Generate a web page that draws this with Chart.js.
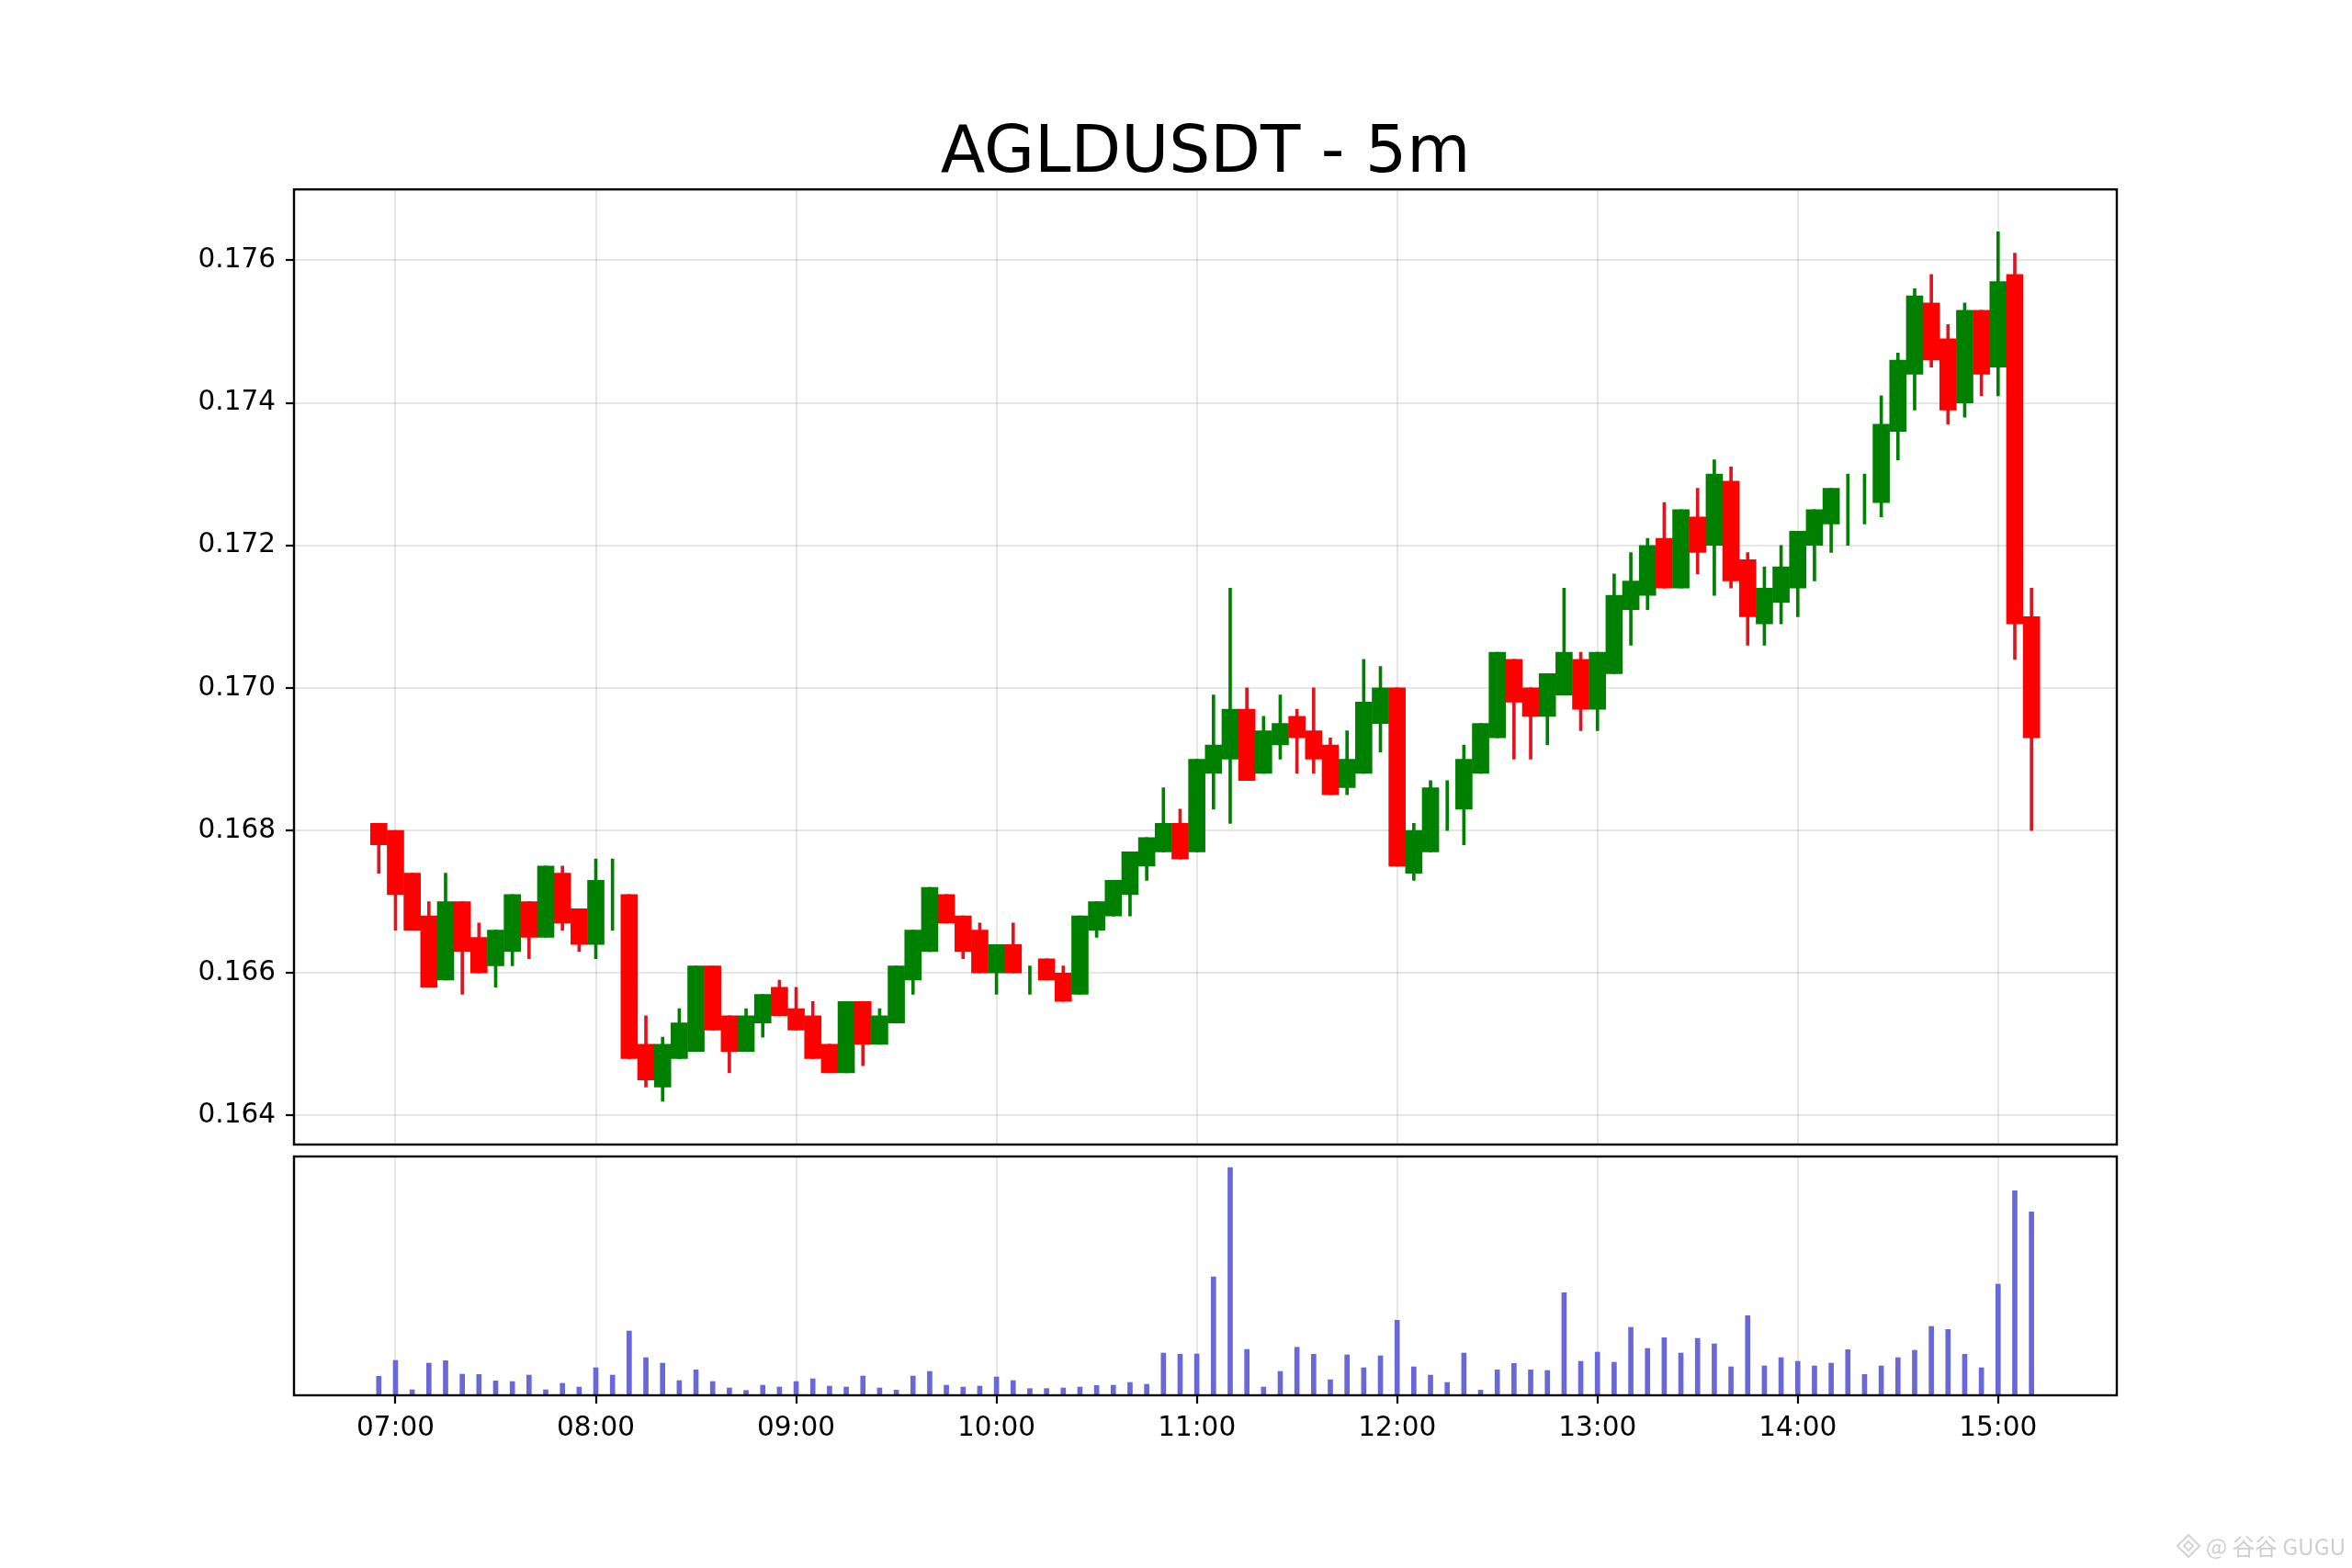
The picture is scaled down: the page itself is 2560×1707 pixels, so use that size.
<!DOCTYPE html>
<html>
<head>
<meta charset="utf-8">
<title>AGLDUSDT - 5m</title>
<script src="https://cdn.jsdelivr.net/npm/chart.js@4"></script>
<style>
  html, body { margin: 0; padding: 0; background: #fff; }
  body { position: relative; width: 2560px; height: 1707px; overflow: hidden; }
  canvas { position: absolute; left: 0; }
  #priceChart { top: 0; }
  #volumeChart { top: 1240px; }
  #watermark {
    position: absolute; left: 2368px; top: 1665px; white-space: nowrap;
    font: 24.5px "Noto Sans CJK SC", "Noto Sans", sans-serif; color: #cfcfcf;
  }
  #watermark svg { vertical-align: -4px; margin-right: 5px; }
</style>
</head>
<body>
<canvas id="priceChart" width="2560" height="1252"></canvas>
<canvas id="volumeChart" width="2560" height="467"></canvas>
<div id="watermark"><svg width="28" height="28" viewBox="0 0 28 28" fill="none" stroke="#d4d4d4" stroke-width="2"><path d="M14 2 L26 14 L14 26 L2 14 Z"/><path d="M14 9 L19 14 L14 19 L9 14 Z"/></svg>@ 谷谷 GUGU</div>

<script>
// 5 minute candles, first one is 06:55
const opens = [
  0.1681, 0.1680, 0.1674, 0.1668, 0.1659, 0.1670, 0.1665, 0.1661, 0.1663, 0.1670,
  0.1665, 0.1674, 0.1669, 0.1664, 0.1671, 0.1671, 0.1650, 0.1644, 0.1648, 0.1649,
  0.1661, 0.1654, 0.1649, 0.1653, 0.1658, 0.1655, 0.1654, 0.1650, 0.1646, 0.1656,
  0.1650, 0.1653, 0.1659, 0.1663, 0.1671, 0.1668, 0.1666, 0.1660, 0.1664, 0.1659,
  0.1662, 0.1660, 0.1657, 0.1666, 0.1668, 0.1671, 0.1675, 0.1677, 0.1681, 0.1677,
  0.1688, 0.1690, 0.1697, 0.1688, 0.1692, 0.1696, 0.1694, 0.1692, 0.1686, 0.1688,
  0.1695, 0.1700, 0.1674, 0.1677, 0.1684, 0.1683, 0.1688, 0.1693, 0.1704, 0.1700,
  0.1696, 0.1699, 0.1704, 0.1697, 0.1702, 0.1711, 0.1713, 0.1721, 0.1714, 0.1724,
  0.1720, 0.1729, 0.1718, 0.1709, 0.1712, 0.1714, 0.1720, 0.1723, 0.1725, 0.1726,
  0.1726, 0.1736, 0.1744, 0.1754, 0.1749, 0.1740, 0.1753, 0.1745, 0.1758, 0.1710
];
const highs = [
  0.1681, 0.1680, 0.1674, 0.1670, 0.1674, 0.1670, 0.1667, 0.1666, 0.1671, 0.1670,
  0.1675, 0.1675, 0.1669, 0.1676, 0.1676, 0.1671, 0.1654, 0.1651, 0.1655, 0.1661,
  0.1661, 0.1654, 0.1655, 0.1657, 0.1659, 0.1658, 0.1656, 0.1650, 0.1656, 0.1656,
  0.1655, 0.1661, 0.1666, 0.1672, 0.1671, 0.1668, 0.1667, 0.1664, 0.1667, 0.1661,
  0.1662, 0.1661, 0.1668, 0.1670, 0.1673, 0.1677, 0.1679, 0.1686, 0.1683, 0.1690,
  0.1699, 0.1714, 0.1700, 0.1696, 0.1699, 0.1697, 0.1700, 0.1693, 0.1694, 0.1704,
  0.1703, 0.1700, 0.1681, 0.1687, 0.1687, 0.1692, 0.1695, 0.1705, 0.1704, 0.1700,
  0.1702, 0.1714, 0.1705, 0.1705, 0.1716, 0.1719, 0.1721, 0.1726, 0.1725, 0.1728,
  0.1732, 0.1731, 0.1719, 0.1717, 0.1720, 0.1722, 0.1725, 0.1728, 0.1730, 0.1730,
  0.1741, 0.1747, 0.1756, 0.1758, 0.1751, 0.1754, 0.1753, 0.1764, 0.1761, 0.1714
];
const lows = [
  0.1674, 0.1666, 0.1666, 0.1658, 0.1659, 0.1657, 0.1660, 0.1658, 0.1661, 0.1662,
  0.1665, 0.1666, 0.1663, 0.1662, 0.1666, 0.1648, 0.1644, 0.1642, 0.1648, 0.1649,
  0.1652, 0.1646, 0.1649, 0.1651, 0.1654, 0.1652, 0.1648, 0.1646, 0.1646, 0.1647,
  0.1650, 0.1653, 0.1657, 0.1663, 0.1667, 0.1662, 0.1660, 0.1657, 0.1660, 0.1657,
  0.1659, 0.1656, 0.1657, 0.1665, 0.1668, 0.1668, 0.1673, 0.1677, 0.1676, 0.1677,
  0.1683, 0.1681, 0.1687, 0.1688, 0.1690, 0.1688, 0.1688, 0.1685, 0.1685, 0.1688,
  0.1691, 0.1675, 0.1673, 0.1677, 0.1680, 0.1678, 0.1688, 0.1693, 0.1690, 0.1690,
  0.1692, 0.1699, 0.1694, 0.1694, 0.1702, 0.1706, 0.1711, 0.1714, 0.1714, 0.1716,
  0.1713, 0.1714, 0.1706, 0.1706, 0.1709, 0.1710, 0.1715, 0.1719, 0.1720, 0.1723,
  0.1724, 0.1732, 0.1739, 0.1745, 0.1737, 0.1738, 0.1741, 0.1741, 0.1704, 0.1680
];
const closes = [
  0.1678, 0.1671, 0.1666, 0.1658, 0.1670, 0.1663, 0.1660, 0.1666, 0.1671, 0.1665,
  0.1675, 0.1667, 0.1664, 0.1673, 0.1671, 0.1648, 0.1645, 0.1650, 0.1653, 0.1661,
  0.1652, 0.1649, 0.1654, 0.1657, 0.1654, 0.1652, 0.1648, 0.1646, 0.1656, 0.1650,
  0.1654, 0.1661, 0.1666, 0.1672, 0.1667, 0.1663, 0.1660, 0.1664, 0.1660, 0.1659,
  0.1659, 0.1656, 0.1668, 0.1670, 0.1673, 0.1677, 0.1679, 0.1681, 0.1676, 0.1690,
  0.1692, 0.1697, 0.1687, 0.1694, 0.1695, 0.1693, 0.1690, 0.1685, 0.1690, 0.1698,
  0.1700, 0.1675, 0.1680, 0.1686, 0.1684, 0.1690, 0.1695, 0.1705, 0.1698, 0.1696,
  0.1702, 0.1705, 0.1697, 0.1705, 0.1713, 0.1715, 0.1720, 0.1714, 0.1725, 0.1719,
  0.1730, 0.1715, 0.1710, 0.1714, 0.1717, 0.1722, 0.1725, 0.1728, 0.1725, 0.1726,
  0.1737, 0.1746, 0.1755, 0.1746, 0.1739, 0.1753, 0.1744, 0.1757, 0.1709, 0.1693
];
const volumes = [
  62, 114, 18, 105, 113, 69, 68, 47, 45, 66,
  18, 39, 27, 90, 66, 210, 123, 105, 48, 83,
  45, 24, 16, 33, 27, 45, 54, 30, 27, 63,
  24, 17, 63, 78, 33, 27, 30, 60, 48, 22,
  22, 24, 27, 32, 33, 42, 36, 138, 134, 135,
  387, 744, 150, 27, 78, 157, 134, 51, 132, 90,
  129, 245, 93, 66, 42, 138, 17, 83, 104, 83,
  81, 335, 111, 141, 108, 222, 153, 188, 138, 186,
  168, 93, 260, 96, 123, 111, 96, 105, 149, 68,
  96, 123, 147, 225, 215, 134, 90, 363, 668, 599
];
const hourIndexes = [1, 13, 25, 37, 49, 61, 73, 85, 97];
const hourLabels = ['07:00', '08:00', '09:00', '10:00', '11:00', '12:00', '13:00', '14:00', '15:00'];
const priceTicks = [0.164, 0.166, 0.168, 0.170, 0.172, 0.174, 0.176];

const GREEN = '#008000';
const RED = '#ff0000';
const WICK_RED = '#e0141e';
const GRID = 'rgba(128, 128, 128, 0.2)';
const FONT = { family: '"DejaVu Sans"', size: 29.5 };
const xMin = -5.08;
const xMax = 104.11;

const isUp = closes.map((c, i) => c >= opens[i]);

// matplotlib style box around the axes
const frame = {
  id: 'frame',
  afterDraw(chart) {
    const a = chart.chartArea;
    const ctx = chart.ctx;
    ctx.save();
    ctx.strokeStyle = '#000';
    ctx.lineWidth = 2.4;
    ctx.strokeRect(a.left, a.top, a.right - a.left, a.bottom - a.top);
    ctx.restore();
  }
};

new Chart(document.getElementById('priceChart'), {
  type: 'bar',
  plugins: [frame],
  data: {
    datasets: [
      {
        label: 'body',
        order: 1,
        barThickness: 18,
        // open == close has no body at all, only the wick
        data: opens.map((o, i) => ({ x: i, y: o === closes[i] ? null : [o, closes[i]] })),
        backgroundColor: isUp.map(up => up ? GREEN : RED)
      },
      {
        label: 'wick',
        order: 2,
        barThickness: 3,
        data: highs.map((h, i) => ({ x: i, y: [lows[i], h] })),
        backgroundColor: isUp.map(up => up ? GREEN : WICK_RED)
      }
    ]
  },
  options: {
    responsive: false,
    animation: false,
    devicePixelRatio: 1,
    grouped: false,
    layout: { padding: { left: 0, right: 256, top: 0, bottom: 6 } },
    plugins: {
      legend: { display: false },
      tooltip: { enabled: false },
      title: {
        display: true,
        text: 'AGLDUSDT - 5m',
        fullSize: false,
        color: '#000',
        font: { family: '"DejaVu Sans"', size: 71, weight: 'normal' },
        padding: { top: 126, bottom: -5 }
      }
    },
    scales: {
      x: {
        type: 'linear',
        offset: false,
        min: xMin,
        max: xMax,
        afterBuildTicks(scale) { scale.ticks = hourIndexes.map(v => ({ value: v })); },
        afterFit(scale) { scale.height = 0; },
        ticks: { display: false },
        grid: { offset: false, color: GRID, lineWidth: 2, drawTicks: false },
        border: { display: false }
      },
      y: {
        min: 0.163593,
        max: 0.176995,
        afterBuildTicks(scale) { scale.ticks = priceTicks.map(v => ({ value: v })); },
        afterFit(scale) { scale.width = 320; scale.paddingTop = 0; scale.paddingBottom = 0; },
        ticks: { color: '#000', font: FONT, padding: 11, callback: v => v.toFixed(3) },
        grid: { color: GRID, lineWidth: 2, tickColor: '#000', tickWidth: 2.2, tickLength: 9 },
        border: { display: false }
      }
    }
  }
});

new Chart(document.getElementById('volumeChart'), {
  type: 'bar',
  plugins: [frame],
  data: {
    datasets: [{
      label: 'volume',
      barThickness: 5,
      data: volumes.map((v, i) => ({ x: i, y: v })),
      backgroundColor: '#6868d8'
    }]
  },
  options: {
    responsive: false,
    animation: false,
    devicePixelRatio: 1,
    layout: { padding: { left: 320, right: 256, top: 19, bottom: 0 } },
    plugins: { legend: { display: false }, tooltip: { enabled: false } },
    scales: {
      x: {
        type: 'linear',
        offset: false,
        min: xMin,
        max: xMax,
        afterBuildTicks(scale) { scale.ticks = hourIndexes.map(v => ({ value: v })); },
        afterFit(scale) { scale.height = 188; scale.paddingLeft = 0; scale.paddingRight = 0; },
        ticks: {
          color: '#000', font: FONT, padding: 10, maxRotation: 0, autoSkip: false,
          callback: v => hourLabels[hourIndexes.indexOf(v)]
        },
        grid: { offset: false, color: GRID, lineWidth: 2, tickColor: '#000', tickWidth: 2.2, tickLength: 9 },
        border: { display: false }
      },
      y: {
        display: true,
        min: 0,
        max: 780,
        afterFit(scale) { scale.width = 0; },
        ticks: { display: false },
        grid: { display: false },
        border: { display: false }
      }
    }
  }
});
</script>
</body>
</html>
